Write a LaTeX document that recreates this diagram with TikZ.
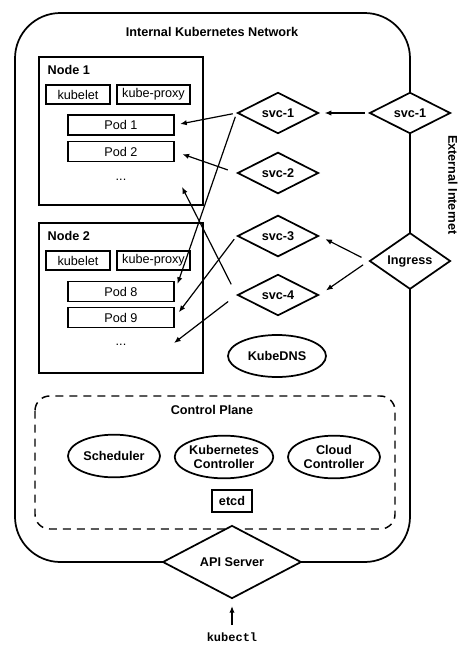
\documentclass[tikz,border=0pt]{standalone}
\usepackage{fontspec}
\setmainfont{Liberation Sans}
\setmonofont{Liberation Mono}
\usetikzlibrary{shapes.geometric,arrows.meta}

\begin{document}
\begin{tikzpicture}[x=0.75pt,y=-0.75pt,
        font=\fontsize{9.5}{11.5}\selectfont,
        base/.style={draw,line width=1.3pt,inner sep=0pt},
        hostbox/.style={base,minimum width=123pt},
        agentbox/.style={base,minimum height=14.25pt},
        podbox/.style={base,minimum width=79.5pt,minimum height=15pt},
        svcdiamond/.style={base,diamond,fill=white,font=\fontsize{9.5}{11.5}\selectfont\bfseries,
            minimum width=60.75pt,minimum height=30.75pt},
        service/.style={base,ellipse,align=center,font=\fontsize{9.5}{11}\selectfont\bfseries,
            minimum width=69pt,minimum height=32pt},
        caption/.style={font=\fontsize{9.5}{11.5}\selectfont\bfseries},
        arr/.style={-{Latex[length=5pt,width=4pt]},line width=0.9pt,shorten <=3pt,shorten >=4pt}]
        \useasboundingbox (0,0) rectangle (474,657);
        % Internal network
        \draw[line width=1.3pt,rounded corners=34pt] (15,13) rectangle (410,562);
        \node[caption] (net) at (212,32) {Internal Kubernetes Network};
        \node[caption,rotate=-90] (ext) at (453,185) {External Internet};
        % Node 1
        \node[hostbox,minimum height=111pt] (node1) at (121,131) {};
        \node[caption,anchor=west] (node1lbl) at (43,70) {Node 1};
        \node[agentbox,minimum width=48pt] (kubelet1) at (78,94.5) {kubelet};
        \node[agentbox,minimum width=54.75pt] (proxy1) at (153.5,94.5) {kube-proxy};
        \node[podbox] (pod1) at (121,125) {Pod 1};
        \node[podbox] (pod2) at (121,151.5) {Pod 2};
        \node (dots1) at (121,180) {...};
        % Node 2
        \node[hostbox,minimum height=112.5pt] (node2) at (121,298) {};
        \node[caption,anchor=west] (node2lbl) at (43,236) {Node 2};
        \node[agentbox,minimum width=48pt] (kubelet2) at (78,260.5) {kubelet};
        \node[agentbox,minimum width=54.75pt] (proxy2) at (153.5,260.5) {kube-proxy};
        \node[podbox] (pod8) at (121,291.5) {Pod 8};
        \node[podbox] (pod9) at (121,317.5) {Pod 9};
        \node (dots2) at (121,345) {...};
        \coordinate (free1) at (182,187);
        \coordinate (free2) at (174,343);
        % Services
        \node[svcdiamond] (svc1) at (278,113) {svc-1};
        \node[svcdiamond] (svc2) at (278,173) {svc-2};
        \node[svcdiamond] (svc3) at (278,236) {svc-3};
        \node[svcdiamond] (svc4) at (278,295) {svc-4};
        \node[svcdiamond] (extsvc1) at (410,113) {svc-1};
        \node[svcdiamond] (ingress) at (410,261) {Ingress};
        \node[service,minimum width=73.5pt,minimum height=31.5pt] (dns) at (277,356) {KubeDNS};
        % Control plane
        \draw[line width=1.1pt,dash pattern=on 6pt off 4.5pt,rounded corners=11pt] (35,396) rectangle (395,529);
        \node[caption] (cplbl) at (212,410) {Control Plane};
        \node[service] (sched) at (114,456) {Scheduler};
        \node[service] (kctrl) at (224,457) {Kubernetes\\Controller};
        \node[service] (cctrl) at (334,457) {Cloud\\Controller};
        \node[base,font=\fontsize{9.5}{11.5}\selectfont\bfseries,minimum width=30pt,minimum height=16.5pt] (etcd) at (232,501) {etcd};
        \node[svcdiamond,minimum width=104pt] (api) at (232,562) {API Server};
        \node[font=\fontsize{9}{11}\selectfont\ttfamily\bfseries] (kubectl) at (232,637) {kubectl};
        % Connectors
        \draw[arr] (extsvc1.west) -- (svc1.east);
        \draw[arr] (svc1.west) -- (pod1.east);
        \draw[arr,shorten >=6pt] (svc1.west) -- (pod8.east);
        \draw[arr,shorten <=7pt,shorten >=6pt] (svc2.west) -- (pod2.east);
        \draw[arr,shorten <=9pt,shorten >=0pt] (svc4.west) -- (free1);
        \draw[arr,shorten >=5pt] (svc3.west) -- (pod9.east);
        \draw[arr,shorten <=8pt,shorten >=0pt] (svc4.west) -- (free2);
        \draw[arr,shorten <=6pt,shorten >=5pt] (ingress.west) -- (svc3.east);
        \draw[arr,shorten <=5pt,shorten >=6pt] (ingress.west) -- (svc4.east);
        \draw[arr,shorten <=2pt,shorten >=5pt] (kubectl.north) -- (api.south);
    \end{tikzpicture}
\end{document}
